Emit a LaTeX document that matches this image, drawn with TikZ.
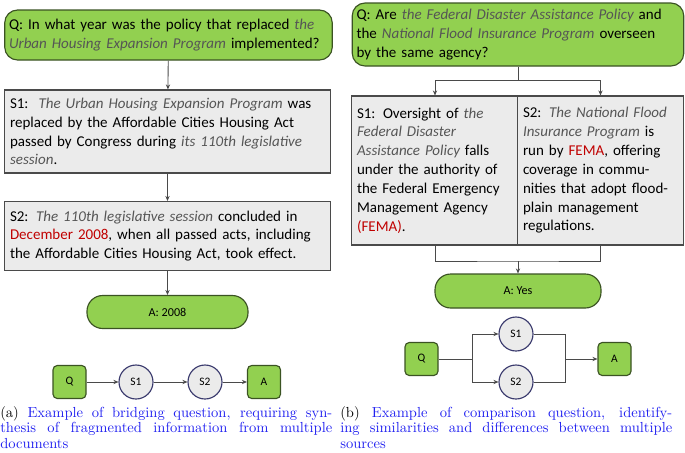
\documentclass[tikz,border=0pt]{standalone}
\usepackage{fontspec}
\usepackage{xcolor}
\usetikzlibrary{arrows.meta}
\newfontfamily\boxfont{Carlito}
\definecolor{qgreen}{HTML}{92D050}
\definecolor{qedge}{HTML}{3B5323}
\definecolor{sgray}{HTML}{EBEBEB}
\definecolor{sedge}{HTML}{4A4A4A}
\definecolor{itgray}{HTML}{555555}
\definecolor{hired}{HTML}{C00000}
\definecolor{cblue}{HTML}{2020F0}
\newcommand{\pu}{0.7pt}
\newcommand{\ital}[1]{{\color{itgray}\itshape #1}}
\newcommand{\hl}[1]{{\color{hired}#1}}
\begin{document}
\begin{tikzpicture}[
        x = 0.7pt, y = -0.7pt,
        arr/.style = {-{Stealth[length=3.5pt,width=3pt]}},
        line/.style = {draw=sedge, semithick},
        qbox/.style = {draw=qedge, fill=qgreen, rounded corners=9pt, thick,
                       font=\boxfont\fontsize{10.5}{13.2}\selectfont, align=left, inner sep=3pt},
        sbox/.style = {draw=sedge, fill=sgray, thick,
                       font=\boxfont\fontsize{10.5}{13.2}\selectfont, align=left, inner sep=4pt},
        abox/.style = {draw=qedge, fill=qgreen, rounded corners=11pt, thick,
                       font=\boxfont\fontsize{8.5}{10}\selectfont},
        gsq/.style = {draw=qedge, fill=qgreen, rounded corners=3pt, thick,
                      minimum size=33*\pu, font=\boxfont\fontsize{8}{9}\selectfont},
        gci/.style = {circle, draw=sedge!80!blue, fill=sgray, thick,
                      minimum size=34*\pu, inner sep=0pt, font=\boxfont\fontsize{8}{9}\selectfont},
        captxt/.style = {anchor=north west, text width=332*\pu, align=justify, inner sep=0pt,
                      font=\fontsize{10.2}{11}\selectfont}
    ]
    \useasboundingbox (0,0) rectangle (685,452);

    % (a) bridging
    \node[qbox, minimum width=327*\pu, minimum height=50*\pu, text width=319*\pu] (q1) at (168.5,35)
        {Q: In what year was the policy that replaced \ital{the}\\
         \ital{Urban Housing Expansion Program} implemented?};
    \node[sbox, minimum width=325*\pu, minimum height=83*\pu, text width=315*\pu] (s1) at (167.5,131.5)
        {S1:\ \ \ital{The Urban Housing Expansion Program} was\\
         replaced by the Affordable Cities Housing Act\\
         passed by Congress during \ital{its 110th legislative}\\
         \ital{session}.};
    \node[sbox, minimum width=325*\pu, minimum height=69*\pu, text width=315*\pu] (s2) at (167.5,236)
        {S2: \ital{The 110th legislative session} concluded in\\
         \hl{December 2008}, when all passed acts, including\\
         the Affordable Cities Housing Act, took effect.};
    \node[abox, minimum width=161*\pu, minimum height=33*\pu] (a1) at (167.5,312) {A: 2008};
    \draw[line, arr] (q1) -- (s1);
    \draw[line, arr] (s1) -- (s2);
    \draw[line, arr] (s2) -- (a1);

    \node[gsq] (gq1) at (69.5,382) {Q};
    \node[gci] (gs11) at (136,382) {S1};
    \node[gci] (gs21) at (205,382) {S2};
    \node[gsq] (ga1) at (264,382) {A};
    \draw[line, arr] (gq1) -- (gs11);
    \draw[line, arr] (gs11) -- (gs21);
    \draw[line, arr] (gs21) -- (ga1);

    \node[captxt] (ca) at (0,406) {(a) \color{cblue}Example of bridging question, requiring syn-\linebreak
        thesis of fragmented information from multiple\linebreak documents};

    % (b) comparison
    \node[qbox, minimum width=331*\pu, minimum height=63*\pu, text width=323*\pu] (q2) at (518,34.5)
        {Q: Are \ital{the Federal Disaster Assistance Policy} and\\
         the \ital{National Flood Insurance Program} overseen\\
         by the same agency?};
    \node[sbox, minimum width=166*\pu, minimum height=149*\pu, text width=156*\pu] (sb1) at (435,170.5)
        {S1: Oversight of \ital{the}\\
         \ital{Federal Disaster}\\
         \ital{Assistance Policy} falls\\
         under the authority of\\
         the Federal Emergency\\
         Management Agency\\
         \hl{(FEMA)}.};
    \node[sbox, minimum width=165*\pu, minimum height=149*\pu, text width=155*\pu] (sb2) at (600.5,170.5)
        {S2: \ital{The National Flood}\\
         \ital{Insurance Program} is\\
         run by \hl{FEMA}, offering\\
         coverage in commu-\\
         nities that adopt flood-\\
         plain management\\
         regulations.\\[-0.2em]};
    \node[abox, minimum width=166*\pu, minimum height=34*\pu] (a2) at (518,291) {A: Yes};
    \coordinate (spq) at (518,80);
    \coordinate (mgs) at (518,261);
    \draw[line] (q2) -- (spq);
    \draw[line, arr] (spq) -| (sb1);
    \draw[line, arr] (spq) -| (sb2);
    \draw[line] (sb1.south) |- (mgs) -| (sb2.south);
    \draw[line, arr] (mgs) -- (a2);

    \node[gsq] (gq2) at (421.5,359) {Q};
    \node[gci] (gs12) at (516,334) {S1};
    \node[gci] (gs22) at (516,382) {S2};
    \node[gsq] (ga2) at (614.5,359) {A};
    \coordinate (spg) at (472,359);
    \coordinate (mgg) at (565,359);
    \draw[line] (gq2) -- (spg);
    \draw[line, arr] (spg) |- (gs12);
    \draw[line, arr] (spg) |- (gs22);
    \draw[line] (gs12) -| (mgg);
    \draw[line] (gs22) -| (mgg);
    \draw[line, arr] (mgg) -- (ga2);

    \node[captxt] (cb) at (340,406) {(b) \color{cblue}Example of comparison question, identify-\linebreak
        ing similarities and differences between multiple\linebreak sources};
\end{tikzpicture}
\end{document}
